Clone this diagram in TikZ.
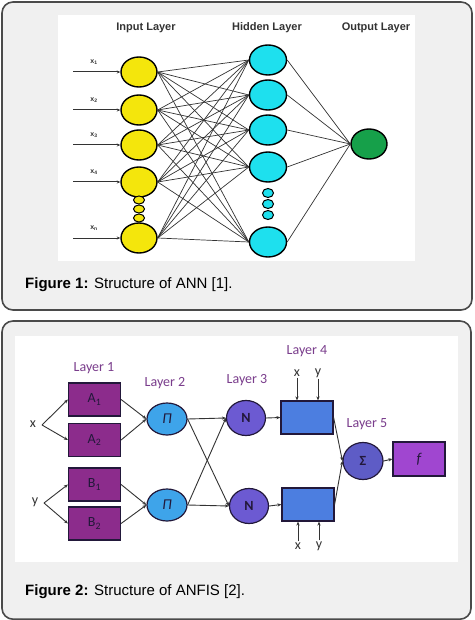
\documentclass[tikz,border=0pt]{standalone}
\usepackage{fontspec}
\setmainfont{Liberation Sans}
\newfontfamily\carl{Carlito}
\usetikzlibrary{arrows.meta,shapes.geometric}
\definecolor{panelbg}{HTML}{F0F0F0}
\definecolor{panelline}{HTML}{4A4A4A}
\definecolor{ynode}{HTML}{F4E60C}
\definecolor{cnode}{HTML}{1EE0EE}
\definecolor{gnode}{HTML}{16A04A}
\definecolor{wire}{HTML}{333333}
\definecolor{layerc}{HTML}{7A3D8C}
\definecolor{abox}{HTML}{8C2C8C}
\definecolor{pinode}{HTML}{3EA4EA}
\definecolor{nnode}{HTML}{6C5AD2}
\definecolor{rbox}{HTML}{4C7EE0}
\definecolor{snode}{HTML}{5E5CC6}
\definecolor{fbox}{HTML}{A046D0}
\definecolor{intext}{HTML}{22183A}
\begin{document}
\begin{tikzpicture}[x=1pt,y=-1pt,
  panel/.style={draw=panelline,line width=1.6pt,fill=panelbg,rounded corners=11pt},
  whitebox/.style={fill=white,draw=none},
  ynd/.style={ellipse,draw=black,line width=1.4pt,fill=ynode,minimum width=36pt,minimum height=30pt,inner sep=0pt},
  cnd/.style={ellipse,draw=black,line width=1.4pt,fill=cnode,minimum width=37pt,minimum height=30pt,inner sep=0pt},
  ydot/.style={ellipse,draw=black,line width=1pt,fill=ynode,minimum width=11pt,minimum height=8pt,inner sep=0pt},
  cdot/.style={ellipse,draw=black,line width=1pt,fill=cnode,minimum width=11pt,minimum height=9pt,inner sep=0pt},
  gnd/.style={ellipse,draw=black,line width=1.4pt,fill=gnode,minimum width=36pt,minimum height=30pt,inner sep=0pt},
  link/.style={draw=wire,line width=0.7pt},
  inarrow/.style={draw=wire,line width=1pt,-{Stealth[length=3.5pt,width=3pt]}},
  hdr/.style={font=\bfseries\fontsize{11}{13}\selectfont,text=wire},
  xlab/.style={font=\bfseries\fontsize{7}{8}\selectfont,text=wire},
  caption/.style={anchor=west,font=\fontsize{15}{17}\selectfont,text=black,inner sep=0pt},
  layer/.style={font=\carl\fontsize{14}{16}\selectfont,text=layerc},
  aboxs/.style={rectangle,draw=intext,line width=1.2pt,fill=abox,minimum width=52pt,minimum height=33pt,inner sep=0pt,font=\carl\fontsize{14}{16}\selectfont,text=intext},
  pis/.style={ellipse,draw=intext,line width=1.2pt,fill=pinode,minimum width=40pt,minimum height=32pt,inner sep=0pt,font=\carl\itshape\fontsize{15}{16}\selectfont,text=intext},
  ns/.style={ellipse,draw=intext,line width=1.2pt,fill=nnode,minimum width=39pt,minimum height=35pt,inner sep=0pt,font=\carl\bfseries\fontsize{14}{16}\selectfont,text=intext},
  rs/.style={rectangle,draw=intext,line width=1.2pt,fill=rbox,minimum width=52pt,minimum height=33pt,inner sep=0pt},
  ss/.style={ellipse,draw=intext,line width=1.2pt,fill=snode,minimum width=40pt,minimum height=37pt,inner sep=0pt,font=\carl\bfseries\fontsize{14}{16}\selectfont,text=intext},
  fs/.style={rectangle,draw=intext,line width=1.2pt,fill=fbox,minimum width=52pt,minimum height=34pt,inner sep=0pt,font=\carl\itshape\fontsize{15}{16}\selectfont,text=intext},
  io/.style={font=\carl\fontsize{14}{15}\selectfont,text=wire,inner sep=1pt},
  arr/.style={draw=wire,line width=0.9pt,-{Stealth[length=4pt,width=3.2pt]}}
]
\useasboundingbox (0,0) rectangle (474,620);
% panels
\draw[panel] (2,2) rectangle (472,310);
\draw[panel] (2,321) rectangle (471,619.2);
\fill[whitebox] (58,15) rectangle (415,261);
\fill[whitebox] (15,336) rectangle (458,562);
% captions
\node[caption] (cap1) at (25,285) {\textbf{Figure 1:} Structure of ANN [1].};
\node[caption] (cap2) at (25,592) {\textbf{Figure 2:} Structure of ANFIS [2].};
% ANN headers
\node[hdr] (hin) at (146,28) {Input Layer};
\node[hdr] (hhid) at (267,28) {Hidden Layer};
\node[hdr] (hout) at (376,28) {Output Layer};
% input nodes
\node[ynd] (i1) at (139,72) {};
\node[ynd] (i2) at (139,110) {};
\node[ynd] (i3) at (139,145) {};
\node[ynd] (i4) at (139,182) {};
\node[ynd] (i5) at (139,238) {};
\node[ydot] (id1) at (139,200) {};
\node[ydot] (id2) at (139,209) {};
\node[ydot] (id3) at (139,218) {};
% hidden nodes
\node[cnd] (h1) at (268,60) {};
\node[cnd] (h2) at (268,95) {};
\node[cnd] (h3) at (268,130) {};
\node[cnd] (h4) at (268,167) {};
\node[cnd] (h5) at (268,242) {};
\node[cdot] (hd1) at (268,193) {};
\node[cdot] (hd2) at (268,204) {};
\node[cdot] (hd3) at (268,215) {};
% output
\node[gnd] (o) at (369,144) {};
% links
\foreach \a in {1,...,5}{
  \foreach \b in {1,...,5}{
    \draw[link] (i\a.east) -- (h\b.west);
  }
  \draw[link] (h\a.east) -- (o.west);
}
% input arrows
\foreach \k/\yy/\t in {1/72/1,2/110/2,3/145/3,4/182/4,5/238/n}{
  \coordinate (s\k) at (73,\yy);
  \draw[inarrow] (s\k) -- (i\k.west);
  \node[xlab] (xl\k) at (94,\yy-10) {x\textsubscript{\t}};
}
% ANFIS
\node[layer] (L1) at (94,368) {Layer 1};
\node[layer] (L2) at (165,383) {Layer 2};
\node[layer] (L3) at (247,380) {Layer 3};
\node[layer] (L4) at (307,351) {Layer 4};
\node[layer] (L5) at (367,424) {Layer 5};
\node[aboxs] (A1) at (94.5,399.5) {A\textsubscript{1}};
\node[aboxs] (A2) at (94.5,440) {A\textsubscript{2}};
\node[aboxs] (B1) at (94.5,484.5) {B\textsubscript{1}};
\node[aboxs] (B2) at (94.5,523.5) {B\textsubscript{2}};
\node[io] (xin) at (33,424) {x};
\node[io] (yin) at (35,502) {y};
\coordinate (xo) at (42,425);
\coordinate (yo) at (44,503);
\draw[arr] (xo) -- (A1.west);
\draw[arr] (xo) -- (A2.west);
\draw[arr] (yo) -- (B1.west);
\draw[arr] (yo) -- (B2.west);
\node[pis] (P1) at (167,419) {Π};
\node[pis] (P2) at (167,505) {Π};
\draw[arr] (A1.east) -- (P1.west);
\draw[arr] (A2.east) -- (P1.west);
\draw[arr] (B1.east) -- (P2.west);
\draw[arr] (B2.east) -- (P2.west);
\node[ns] (N1) at (246,418) {N};
\node[ns] (N2) at (249,506) {N};
\draw[arr] (P1.east) -- (N1.west);
\draw[arr] (P1.east) -- (N2.west);
\draw[arr] (P2.east) -- (N1.west);
\draw[arr] (P2.east) -- (N2.west);
\node[rs] (R1) at (307,417.5) {};
\node[rs] (R2) at (308,504.5) {};
\draw[arr] (N1.east) -- (R1.west);
\draw[arr] (N2.east) -- (R2.west);
\node[io] (x4a) at (297,373) {x};
\node[io] (y4a) at (318,373) {y};
\node[io] (x4b) at (298,546) {x};
\node[io] (y4b) at (319,546) {y};
\draw[arr] (x4a.south) -- (x4a.south |- R1.north);
\draw[arr] (y4a.south) -- (y4a.south |- R1.north);
\draw[arr] (x4b.north) -- (x4b.north |- R2.south);
\draw[arr] (y4b.north) -- (y4b.north |- R2.south);
\node[ss] (S) at (363,461) {Σ};
\draw[arr] (R1.east) -- (S.west);
\draw[arr] (R2.east) -- (S.west);
\node[fs] (F) at (419,459) {f};
\draw[arr] (S.east) -- (F.west);
\end{tikzpicture}
\end{document}
